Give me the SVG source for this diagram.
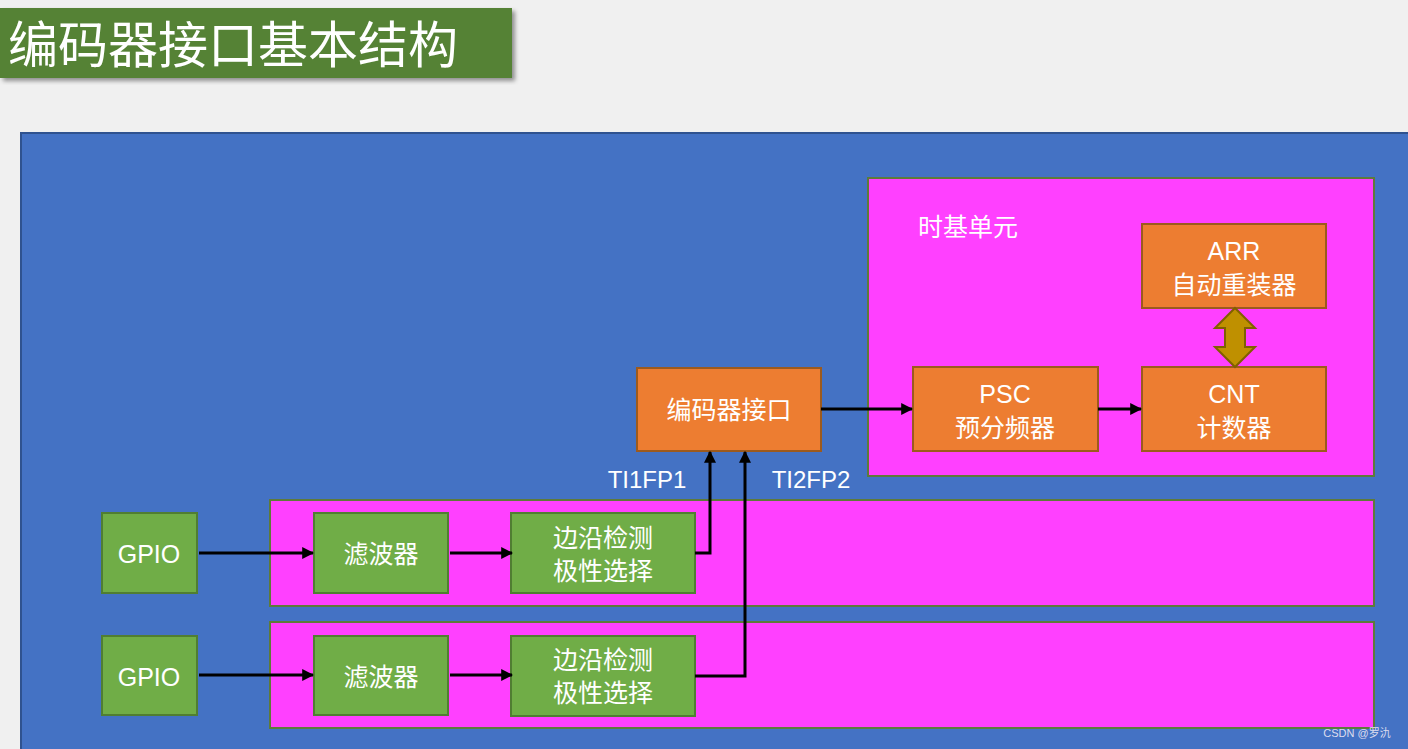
<svg xmlns="http://www.w3.org/2000/svg" width="1408" height="749" viewBox="0 0 1408 749">
<defs>
<style>
text{font-family:"Liberation Sans","Noto Sans CJK SC",sans-serif;fill:#fff;text-anchor:middle}
.or{fill:#ED7D31;stroke:#9C5A1E;stroke-width:2}
.gr{fill:#70AD47;stroke:#507E32;stroke-width:2}
.mg{fill:#FF40FF;stroke:#5E7A3A;stroke-width:2}
.t{font-size:25px}
.c{fill:none;stroke:#000;stroke-width:3}
</style>
<marker id="a" viewBox="0 0 10 10" refX="9" refY="5" markerWidth="4" markerHeight="4" orient="auto"><path d="M0,0L10,5L0,10z" fill="#000"/></marker>
<filter id="sh"><feDropShadow dx="3" dy="3" stdDeviation="2" flood-opacity="0.4"/></filter>
</defs>
<rect width="1408" height="749" fill="#F0F0F0"/>
<g id="title"><rect x="0" y="8" width="512" height="70" fill="#548235" filter="url(#sh)"/><text x="8" y="63" style="text-anchor:start;font-size:50px">编码器接口基本结构</text></g>
<rect x="21" y="133" width="1395" height="625" fill="#4472C4" stroke="#2F528F" stroke-width="2"/>
<g id="timebase"><rect class="mg" x="868" y="178" width="506" height="298"/><text x="968" y="236" class="t">时基单元</text></g>
<g id="row1"><rect class="mg" x="270" y="500" width="1104" height="106"/></g>
<g id="row2"><rect class="mg" x="270" y="622" width="1104" height="106"/></g>
<g id="arr"><rect class="or" x="1142" y="224" width="184" height="84"/><text x="1234" y="260" class="t">ARR</text><text x="1234" y="294" class="t">自动重装器</text></g>
<g id="psc"><rect class="or" x="913" y="367" width="185" height="84"/><text x="1005" y="403" class="t">PSC</text><text x="1005" y="437" class="t">预分频器</text></g>
<g id="cnt"><rect class="or" x="1142" y="367" width="184" height="84"/><text x="1234" y="403" class="t">CNT</text><text x="1234" y="437" class="t">计数器</text></g>
<g id="enc"><rect class="or" x="637" y="368" width="184" height="83"/><text x="729" y="419" class="t">编码器接口</text></g>
<g id="gpio1"><rect class="gr" x="102" y="513" width="95" height="80"/><text x="149" y="563" class="t">GPIO</text></g>
<g id="gpio2"><rect class="gr" x="102" y="636" width="95" height="79"/><text x="149" y="686" class="t">GPIO</text></g>
<g id="f1"><rect class="gr" x="314" y="513" width="134" height="80"/><text x="381" y="563" class="t">滤波器</text></g>
<g id="f2"><rect class="gr" x="314" y="636" width="134" height="79"/><text x="381" y="686" class="t">滤波器</text></g>
<g id="e1"><rect class="gr" x="511" y="513" width="184" height="80"/><text x="603" y="547" class="t">边沿检测</text><text x="603" y="580" class="t">极性选择</text></g>
<g id="e2"><rect class="gr" x="511" y="636" width="184" height="80"/><text x="603" y="669" class="t">边沿检测</text><text x="603" y="702" class="t">极性选择</text></g>
<g id="connectors">
<path class="c" marker-end="url(#a)" d="M199,553H313"/>
<path class="c" marker-end="url(#a)" d="M450,553H512"/>
<path class="c" marker-end="url(#a)" d="M199,675H313"/>
<path class="c" marker-end="url(#a)" d="M450,675H512"/>
<path class="c" marker-end="url(#a)" d="M695,553H710V452"/>
<path class="c" marker-end="url(#a)" d="M695,676H745V452"/>
<path class="c" marker-end="url(#a)" d="M821,409H912"/>
<path class="c" marker-end="url(#a)" d="M1098,409H1141"/>
<path d="M1235,308L1255,328H1245V347H1255L1235,367L1215,347H1225V328H1215Z" fill="#BF9000" stroke="#7F6000" stroke-width="2"/>
<text x="647" y="488" class="t" style="font-size:24px">TI1FP1</text>
<text x="811" y="488" class="t" style="font-size:24px">TI2FP2</text>
</g>
<text x="1357" y="737" style="font-size:11px;fill:#dde">CSDN @罗氿</text>
</svg>
